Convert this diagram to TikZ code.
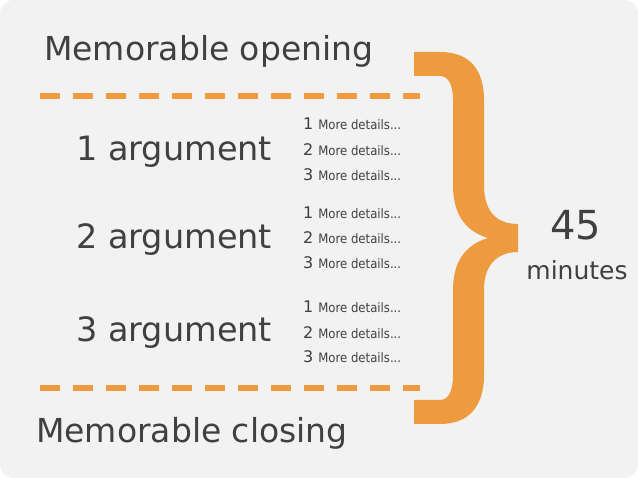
\documentclass[tikz,border=0pt]{standalone}
\usepackage{fontspec}
\setmainfont{DejaVu Sans}
\newfontfamily\cond{DejaVu Sans Condensed}
\definecolor{org}{HTML}{EE9A3E}
\definecolor{txt}{HTML}{404040}
\definecolor{bg}{HTML}{F2F2F2}
\begin{document}
\begin{tikzpicture}[x=1pt,y=-1pt,
  big/.style={text=txt,font=\fontsize{33}{40}\selectfont,inner sep=0,anchor=west},
  arg/.style={text=txt,font=\fontsize{33.5}{40}\selectfont,inner sep=0,anchor=west},
  det/.style={text=txt,inner sep=0,anchor=base west},
  dash line/.style={org,line width=6pt,dash pattern=on 20pt off 13pt}]
\useasboundingbox (0,0) rectangle (638,478);
\fill[white] (0,0) rectangle (638,478);
\fill[bg,rounded corners=14pt] (0,0) rectangle (638,478);
\node[big] (open) at (44,51) {Memorable opening};
\node[big] (close) at (36,433) {Memorable closing};
\coordinate (d1a) at (40,96); \coordinate (d1b) at (420,96);
\coordinate (d2a) at (40,388); \coordinate (d2b) at (420,388);
\draw[dash line] (d1a) -- (d1b);
\draw[dash line] (d2a) -- (d2b);
\node[arg] (a1) at (76,152) {1 argument};
\node[arg] (a2) at (76,240) {2 argument};
\node[arg] (a3) at (76,333) {3 argument};
\foreach \y [count=\i] in {130,156,181, 219,244,269, 313,339,363}{
  \pgfmathtruncatemacro{\n}{mod(\i-1,3)+1}
  \node[det] (m\i) at (303,\y) {{\fontsize{16}{18}\selectfont\n}\hspace{5pt}{\cond\fontsize{13}{14}\selectfont More details...}};
}
\fill[org] (414,52) -- (440,52) .. controls (470,52) and (484,70) .. (484,100) -- (484,185) .. controls (484,215) and (500,224) .. (518,224) -- (518,252) .. controls (500,252) and (484,262) .. (484,290) -- (484,375) .. controls (484,405) and (470,424) .. (440,424) -- (414,424) -- (414,400) -- (440,400) .. controls (448,400) and (453,392) .. (453,375) -- (453,290) .. controls (453,262) and (465,245) .. (488,238) .. controls (465,231) and (453,214) .. (453,185) -- (453,100) .. controls (453,84) and (448,76) .. (440,76) -- (414,76) -- cycle;
\node[text=txt,font=\fontsize{40}{44}\selectfont,inner sep=0] (n45) at (576,225) {45};
\node[text=txt,font=\fontsize{25}{30}\selectfont,inner sep=0] (min) at (577,270) {minutes};
\end{tikzpicture}
\end{document}
